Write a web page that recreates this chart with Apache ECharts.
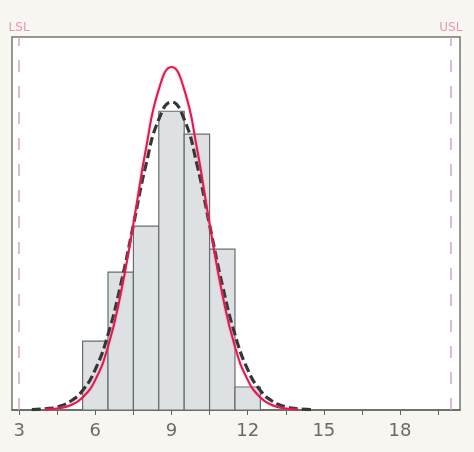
<!DOCTYPE html>
<html>
<head>
<meta charset="utf-8">
<script src="https://cdn.jsdelivr.net/npm/echarts@6/dist/echarts.min.js"></script>
<style>
html,body{margin:0;padding:0;background:#f8f6f1;}
#chart{width:474px;height:452px;}
</style>
</head>
<body>
<div id="chart"></div>
<script>
// Histogram bins (start, end) and counts
const binStarts = [5.5, 6.5, 7.5, 8.5, 9.5, 10.5, 11.5];
const binEnds   = [6.5, 7.5, 8.5, 9.5, 10.5, 11.5, 12.5];
const counts    = [6, 12, 16, 26, 24, 14, 2];

// Solid red fitted curve (x, y)
const redX = [4, 4.5, 5, 5.5, 6, 6.5, 7, 7.5, 8, 8.5, 9, 9.5, 10, 10.5, 11, 11.5, 12, 12.5, 13, 13.5, 14];
const redY = [0.03, 0.13, 0.39, 1.09, 2.62, 5.51, 10.1, 16.2, 22.8, 27.9, 29.85, 27.9, 22.8, 16.2, 10.1, 5.51, 2.62, 1.09, 0.39, 0.13, 0.03];

// Dashed dark fitted curve (x, y)
const dashX = [3.5, 4, 4.5, 5, 5.5, 6, 6.5, 7, 7.5, 8, 8.5, 9, 9.5, 10, 10.5, 11, 11.5, 12, 12.5, 13, 13.5, 14, 14.5];
const dashY = [0.03, 0.10, 0.28, 0.73, 1.70, 3.53, 6.56, 10.9, 16.1, 21.4, 25.3, 26.8, 25.3, 21.4, 16.1, 10.9, 6.56, 3.53, 1.70, 0.73, 0.28, 0.10, 0.03];

// Axis ticks and labels
const tickValues  = [3, 4.5, 6, 7.5, 9, 10.5, 12, 13.5, 15, 16.5, 18, 19.5];
const labelValues = [3, 6, 9, 12, 15, 18];

// Spec limits
const specNames  = ['LSL', 'USL'];
const specValues = [3, 20];

const histData = binStarts.map((s, i) => [s, binEnds[i], counts[i]]);
const redData = redX.map((x, i) => [x, redY[i]]);
const dashData = dashX.map((x, i) => [x, dashY[i]]);

const chart = echarts.init(document.getElementById('chart'));
chart.setOption({
  backgroundColor: '#f8f6f1',
  animation: false,
  grid: {
    left: 12, top: 37, right: 14, bottom: 42,
    show: true, backgroundColor: '#ffffff',
    borderColor: '#6f7773', borderWidth: 1.5
  },
  xAxis: {
    type: 'value', min: 2.72, max: 20.36,
    axisLine: { show: true, lineStyle: { color: '#5f6663', width: 1.5 } },
    axisTick: { show: true, customValues: tickValues, length: 5, lineStyle: { color: '#5f6663', width: 1 } },
    axisLabel: {
      customValues: labelValues, margin: 12,
      fontFamily: 'DejaVu Sans', fontSize: 18, color: '#6a6a6a'
    },
    splitLine: { show: false }
  },
  yAxis: {
    type: 'value', min: 0, max: 32.46, show: false,
    splitLine: { show: false }
  },
  series: [
    {
      type: 'custom',
      data: histData,
      renderItem: function (params, api) {
        const p0 = api.coord([api.value(0), api.value(2)]);
        const p1 = api.coord([api.value(1), 0]);
        return {
          type: 'rect',
          shape: { x: p0[0], y: p0[1], width: p1[0] - p0[0], height: p1[1] - p0[1] },
          style: { fill: '#dde1e3', stroke: '#666d6b', lineWidth: 1.2 }
        };
      },
      encode: { x: [0, 1], y: 2 },
      z: 2
    },
    {
      type: 'line', data: dashData, smooth: true, symbol: 'none',
      lineStyle: { color: '#363636', width: 3.2, type: [9, 4] },
      z: 3
    },
    {
      type: 'line', data: redData, smooth: true, symbol: 'none',
      lineStyle: { color: '#e2194c', width: 2, shadowColor: 'rgba(240,110,160,0.6)', shadowBlur: 2 },
      z: 4,
      markLine: {
        silent: true, symbol: 'none', animation: false,
        lineStyle: { color: '#d9a3c4', width: 1.5, type: [12, 14] },
        label: {
          show: true, position: 'end', distance: 3,
          fontFamily: 'DejaVu Sans', fontSize: 12, color: '#e497b8',
          formatter: function (p) { return p.name; }
        },
        data: specNames.map((n, i) => ({ name: n, xAxis: specValues[i] }))
      }
    }
  ]
});
</script>
</body>
</html>
